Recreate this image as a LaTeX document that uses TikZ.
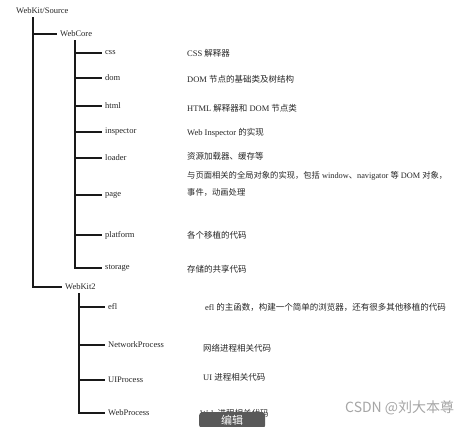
\documentclass[tikz,border=0pt]{standalone}
\usepackage{fontspec}
\setmainfont{Liberation Serif}
\newfontfamily\cjk{Noto Sans CJK SC}
\newcommand{\zh}[1]{{\cjk #1}}

\begin{document}
\begin{tikzpicture}[x=1pt,y=-1pt,
    dir/.style={anchor=west, inner sep=3pt, text=black!85, font=\fontsize{8.5}{10}\selectfont},
    desc/.style={anchor=west, inner sep=0pt, text=black!85, font=\fontsize{8.5}{10}\selectfont},
    branch/.style={line width=1.2pt, draw=black!90}]
      \useasboundingbox [fill=white] (0,0) rectangle (474,426);
      % top level
      \node (src) [dir] at (13,11) {WebKit/Source};
      \coordinate (srcbar) at (33,17);
      \node (webcore) [dir] at (57,34) {WebCore};
      \node (webkit2) [dir] at (62,287) {WebKit2};
      \draw [branch] (srcbar) |- (webcore.west);
      \draw [branch] (srcbar) |- (webkit2.west);
      % WebCore
      \coordinate (corebar) at (75,40);
      \node (css) [dir] at (102,53) {css};
      \node (dom) [dir] at (102,78) {dom};
      \node (html) [dir] at (102,106) {html};
      \node (inspector) [dir] at (102,132) {inspector};
      \node (loader) [dir] at (102,158) {loader};
      \node (page) [dir] at (102,195) {page};
      \node (platform) [dir] at (102,235) {platform};
      \node (storage) [dir] at (102,268) {storage};
      \draw [branch] (corebar) |- (css.west);
      \draw [branch] (corebar) |- (dom.west);
      \draw [branch] (corebar) |- (html.west);
      \draw [branch] (corebar) |- (inspector.west);
      \draw [branch] (corebar) |- (loader.west);
      \draw [branch] (corebar) |- (page.west);
      \draw [branch] (corebar) |- (platform.west);
      \draw [branch] (corebar) |- (storage.west);
      \node (d-css) [desc] at (187,53) {CSS \zh{解释器}};
      \node (d-dom) [desc] at (187,79) {DOM \zh{节点的基础类及树结构}};
      \node (d-html) [desc] at (187,108) {HTML \zh{解释器和} DOM \zh{节点类}};
      \node (d-inspector) [desc] at (187,133) {Web Inspector \zh{的实现}};
      \node (d-loader) [desc] at (187,156) {\zh{资源加载器、缓存等}};
      \node (d-page) [desc, align=left, font=\fontsize{8.3}{17}\selectfont] at (187,183.5)
        {\zh{与页面相关的全局对象的实现，包括} window\zh{、}navigator \zh{等} DOM \zh{对象，}\\\zh{事件，动画处理}};
      \node (d-platform) [desc] at (187,235) {\zh{各个移植的代码}};
      \node (d-storage) [desc] at (187,269) {\zh{存储的共享代码}};
      % WebKit2
      \coordinate (wk2bar) at (79,293);
      \node (efl) [dir] at (105,307) {efl};
      \node (network) [dir] at (105,345) {NetworkProcess};
      \node (uiprocess) [dir] at (105,380) {UIProcess};
      \node (webprocess) [dir] at (105,413) {WebProcess};
      \draw [branch] (wk2bar) |- (efl.west);
      \draw [branch] (wk2bar) |- (network.west);
      \draw [branch] (wk2bar) |- (uiprocess.west);
      \draw [branch] (wk2bar) |- (webprocess.west);
      \node (d-efl) [desc] at (205,307) {efl \zh{的主函数，构建一个简单的浏览器，还有很多其他移植的代码}};
      \node (d-network) [desc] at (203,348) {\zh{网络进程相关代码}};
      \node (d-uiprocess) [desc] at (203,377) {UI \zh{进程相关代码}};
      \node (d-webprocess) [desc] at (200,413) {Web \zh{进程相关代码}};
      % overlay
      \node (mark) [anchor=west, inner sep=0pt, text=black!35, font=\cjk\fontsize{14}{14}\selectfont] at (345,408) {CSDN @刘大本尊};
      \node (editbtn) [anchor=north west, fill=black!65, rounded corners=3pt, text=white, minimum width=66pt, minimum height=16pt, inner sep=0pt, font=\cjk\fontsize{11}{11}\selectfont] at (199,412) {编辑};
    \end{tikzpicture}
\end{document}
